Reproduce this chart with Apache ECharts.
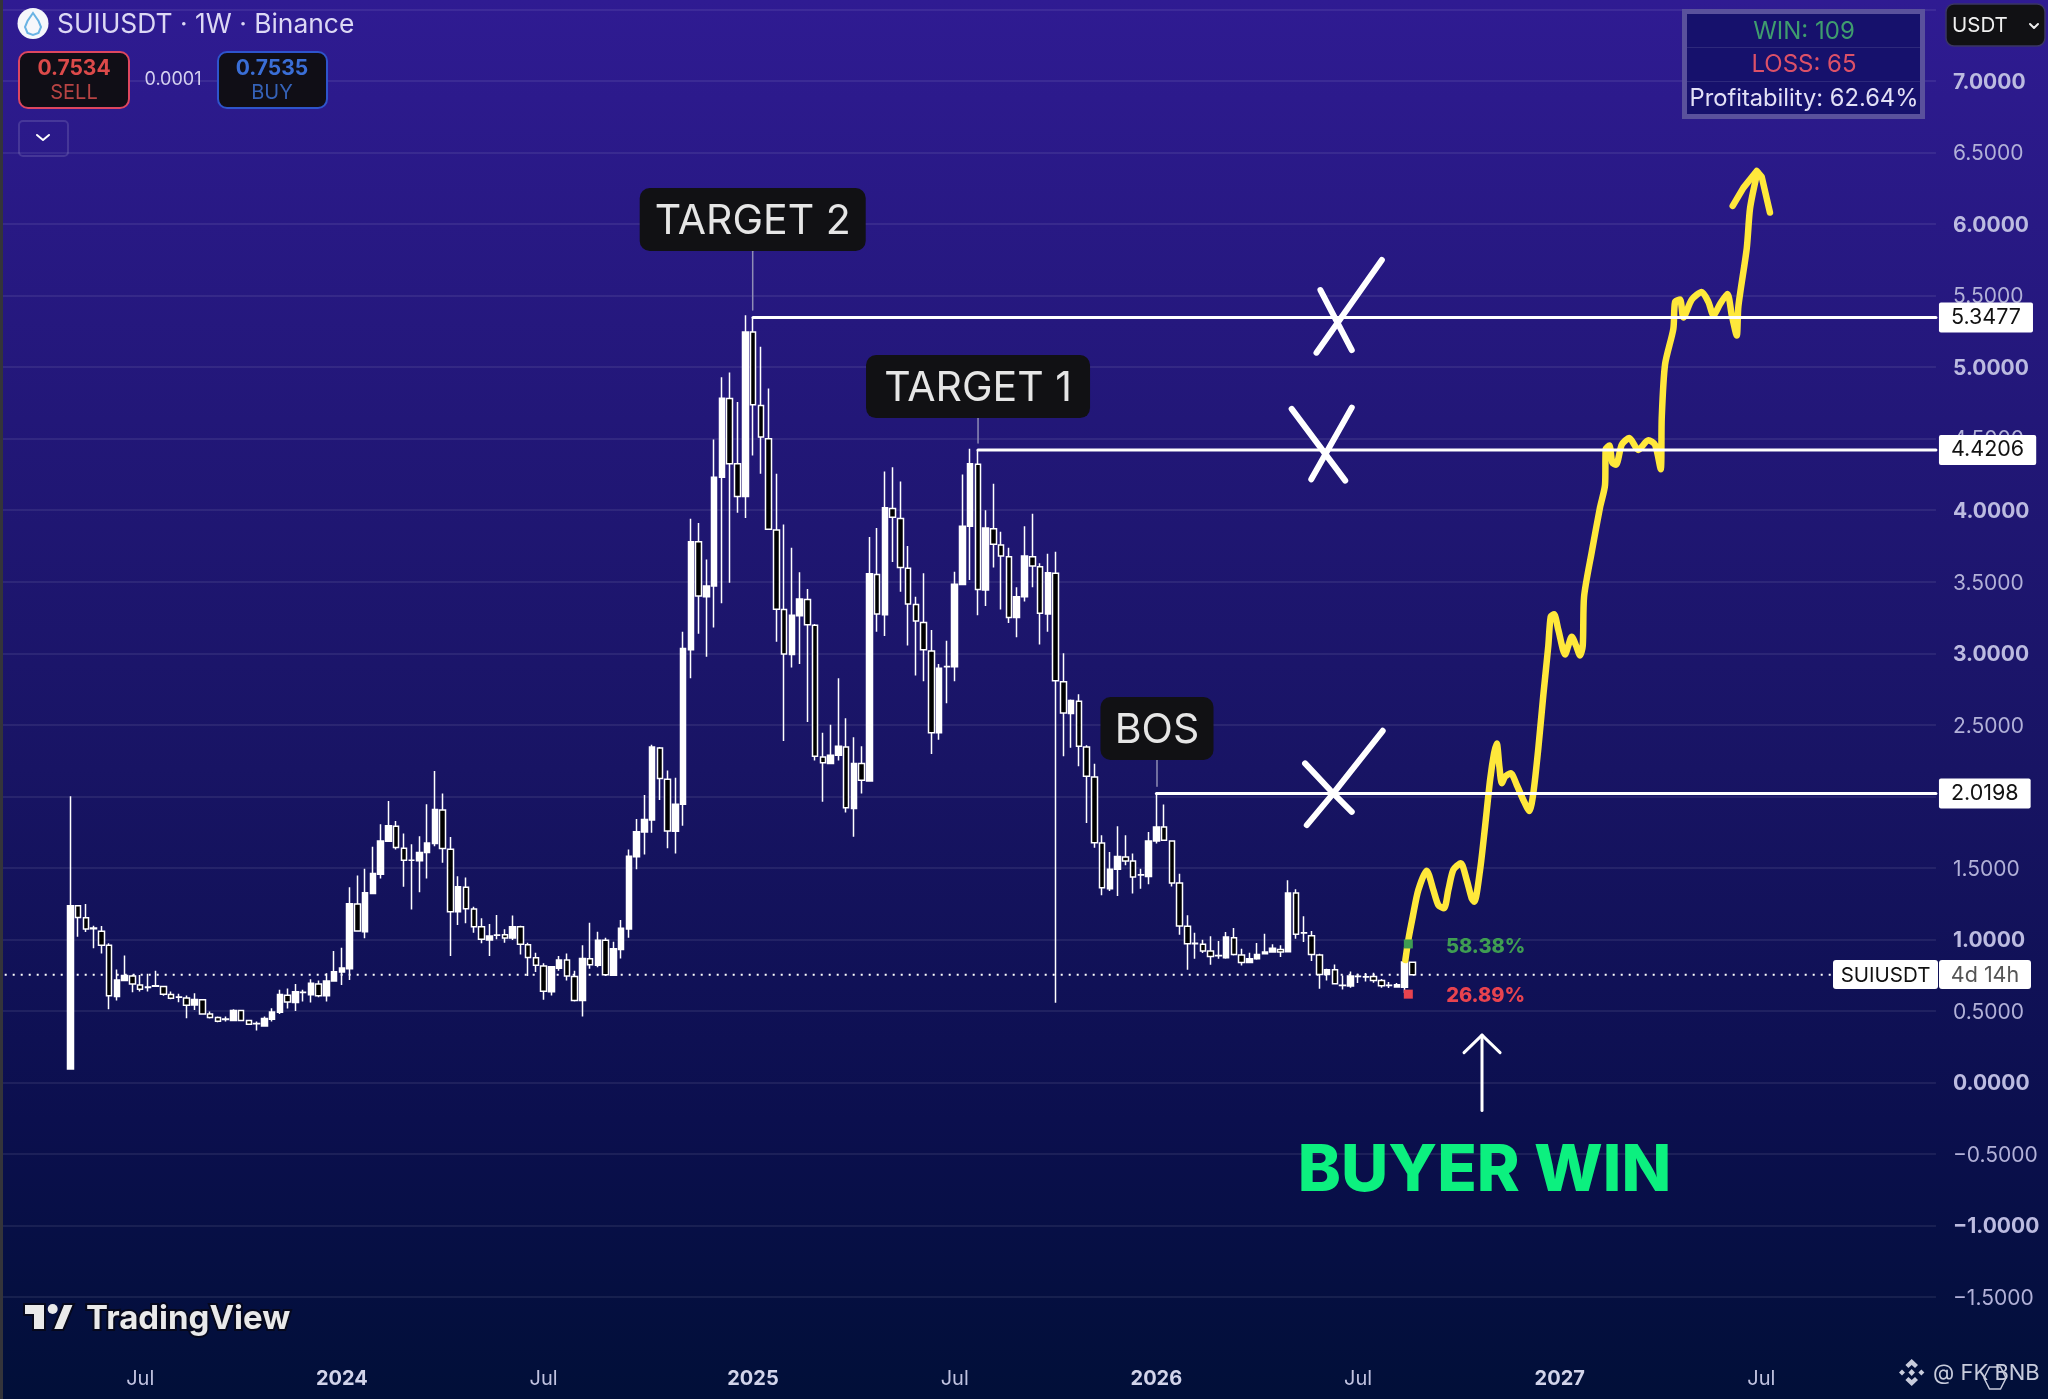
<!DOCTYPE html>
<html>
<head>
<meta charset="utf-8">
<style>html,body{margin:0;padding:0;background:#0a1050}#c{width:2048px;height:1399px}</style>
<script src="https://cdn.jsdelivr.net/npm/echarts@6/dist/echarts.min.js"></script>
</head>
<body>
<div id="c"></div>
<script>
// [open, close, low, high]
const candles2023 = [
[.093,1.235,.09,2.0],[1.235,1.153,1.019,1.235],[1.151,1.072,1.051,1.247],[1.08,1.075,.937,1.095],[1.056,.958,.902,1.093],
[.958,.605,.512,.972],[.60,.716,.572,.79],[.712,.747,.707,.888],[.744,.688,.63,.753],[.681,.651,.635,.751],
[.667,.663,.635,.76],[.676,.672,.67,.781],[.67,.616,.605,.674],[.614,.588,.581,.635],[.597,.595,.56,.619],
[.59,.54,.449,.607],[.542,.579,.507,.623],[.577,.479,.474,.577],[.479,.453,.447,.495],[.453,.428,.421,.46],
[.44,.443,.426,.46],[.433,.502,.428,.512],[.502,.433,.428,.507],[.433,.407,.402,.437],[.41,.411,.363,.426],
[.395,.447,.39,.46],[.442,.493,.426,.519],[.491,.614,.479,.647],[.609,.563,.516,.656],[.558,.633,.5,.688],
[.628,.631,.565,.647],[.612,.693,.558,.721],[.688,.605,.595,.712],[.605,.709,.565,.763]];
const candles2024a = [
[.709,.774,.709,.919],[.772,.8,.681,.942],[.795,1.249,.716,1.365],[1.247,1.058,1.053,1.447],[1.053,1.326,1.007,1.493],
[1.321,1.46,1.321,1.647],[1.456,1.688,1.426,1.805],[1.686,1.795,1.686,1.967],[1.791,1.642,1.628,1.828],[1.637,1.553,1.367,1.74],
[1.553,1.553,1.209,1.665],[1.549,1.607,1.33,1.721],[1.607,1.674,1.426,1.944],[1.67,1.907,1.651,2.177],[1.905,1.635,1.535,2.019],
[1.63,1.193,.884,1.716],[1.193,1.367,1.1,1.442],[1.365,1.214,1.112,1.433],[1.212,1.088,1.047,1.228],[1.088,1.0,.972,1.147],
[.995,1.023,.884,1.107],[1.028,1.03,1.0,1.17],[1.033,1.009,.977,1.07],[1.009,1.088,.995,1.167],[1.088,.965,.895,1.095],
[.963,.874,.744,.977],[.872,.819,.772,.907],[.814,.637,.577,.833],[.633,.809,.607,.814],[.798,.856,.781,.884],
[.856,.744,.712,.902],[.74,.572,.565,.781],[.572,.867,.46,.958],[.865,.823,.795,1.116],[.819,.993,.805,1.053],
[.993,.753,.744,1.012],[.749,.935,.744,.984],[.93,1.077,.867,1.135],[1.072,1.581,1.012,1.628],[1.577,1.753,1.49,1.842],
[1.751,1.837,1.593,2.009]];
const candles2024b = [
[1.835,2.345,1.746,2.36],[2.338,2.125,1.975,2.345],[2.12,1.757,1.637,2.18],[1.755,1.945,1.6,2.13],[1.945,3.033,1.795,3.15],
[3.025,3.78,2.825,3.94],[3.78,3.4,3.137,3.91],[3.395,3.47,2.975,3.655],[3.47,4.23,3.18,4.495],[4.23,4.782,3.35,4.93],
[4.78,4.325,3.492,4.962],[4.325,4.095,3.982,4.757],[4.095,5.245,3.945,5.362],[5.245,4.737,4.382,5.3477],[4.732,4.512,4.255,5.142],
[4.5,3.867,3.867,4.85],[3.862,3.307,3.08,4.255],[3.305,2.995,2.387,3.9],[2.992,3.265,2.9,3.737],[3.262,3.38,2.925,3.567],
[3.375,3.2,2.52,3.45],[3.195,2.28,2.25,3.205],[2.275,2.235,1.962,2.445],[2.23,2.287,2.23,2.5],[2.287,2.35,2.25,2.825]];
const candles2025 = [
[2.345,1.92,1.887,2.545],[1.915,2.23,1.717,2.412],[2.23,2.112,2.02,2.35],[2.107,3.555,2.107,3.812],[3.55,3.275,3.15,3.875],
[3.27,4.017,3.12,4.27],[4.012,3.95,3.637,4.3],[3.942,3.6,3.43,4.2],[3.595,3.345,3.055,3.75],[3.34,3.225,2.845,3.395],
[3.215,3.025,2.805,3.56],[3.015,2.445,2.295,3.162],[2.445,2.895,2.395,2.925],[2.905,2.908,2.65,3.087],[2.905,3.482,2.805,3.57],
[3.48,3.887,3.48,4.25],[3.887,4.325,3.512,4.43],[4.322,3.445,3.265,4.4206],[3.442,3.875,3.33,4.0],[3.87,3.762,3.6,4.185],
[3.757,3.68,3.305,3.85],[3.675,3.25,3.212,3.737],[3.25,3.395,3.112,3.462],[3.395,3.68,3.362,3.887],[3.675,3.61,3.462,3.975],
[3.605,3.28,3.062,3.63],[3.275,3.562,3.15,3.695],[3.56,2.807,.557,3.71],[2.80,2.583,2.28,3.0],[2.578,2.67,2.34,2.676],
[2.665,2.35,2.21,2.713],[2.345,2.14,1.814,2.357],[2.135,1.676,1.64,2.228],[1.674,1.361,1.308,1.727],[1.354,1.49,1.338,1.61],
[1.49,1.58,1.303,1.79],[1.576,1.548,1.518,1.727],[1.548,1.436,1.32,1.6],[1.45,1.452,1.354,1.494],[1.44,1.688,1.385,1.75]];
const candles2026 = [
[1.688,1.786,1.67,2.0198],[1.786,1.692,1.688,1.942],[1.688,1.394,1.37,1.692],[1.394,1.093,1.033,1.459],[1.091,.97,.788,1.168],
[.97,.972,.865,1.047],[.965,.918,.905,.998],[.918,.881,.823,1.021],[.886,.888,.865,.988],[.872,1.016,.865,1.051],
[1.012,.895,.888,1.079],[.891,.839,.818,.935],[.839,.865,.835,.907],[.865,.895,.858,.974],[.90,.912,.90,1.04],
[.911,.937,.911,.965],[.93,.911,.876,.958],[.914,1.324,.91,1.413],[1.324,1.035,1.005,1.35],[1.045,1.047,.981,1.161],
[1.026,.895,.849,1.058],[.891,.755,.655,.9],[.755,.788,.713,.795],[.788,.69,.685,.825],[.678,.68,.65,.748],
[.674,.744,.662,.776],[.74,.742,.695,.76],[.737,.739,.706,.765],[.741,.713,.697,.767],[.713,.676,.662,.723],
[.678,.68,.66,.702],[.667,.683,.665,.695],[.665,.842,.625,.842],[.84,.7534,.7534,.842]];

const leadWeeks = 9;
const totalWeeks = 250;
const xTickIndex = [18,44,70,97,123,149,175,201,227];
const xTickLabels = ['Jul','2024','Jul','2025','Jul','2026','Jul','2027','Jul'];

const levelPrices = [5.3477,4.4206,2.0198];
const levelWeeks = [97,126,149];
const lastPrice = 0.7534;
const targetNames = ['TARGET 2','TARGET 1','BOS'];
const targetWeeks = [96.96,126.01,149.08];
const targetPrices = [6.032,4.864,2.474];
const targetTextPrices = [6.014,4.846,2.456];
const stemTop = [5.81,4.645,2.25];
const stemBottom = [5.40,4.47,2.07];

const forecast = [[181.10,.856],[181.48,.996],[182.05,1.158],[182.77,1.345],[183.85,1.48],[184.71,1.345],[185.35,1.24],[186.08,1.217],[186.64,1.345],[187.28,1.485],
[188.24,1.532],[189.01,1.415],[189.65,1.287],[189.99,1.263],[190.73,1.485],[191.37,1.787],[192.02,2.114],[192.53,2.3],[192.88,2.37],[193.22,2.207],
[193.53,2.091],[193.95,2.137],[194.68,2.161],[195.46,2.079],[196.31,1.974],[197.08,1.897],[197.6,2.024],[198.24,2.336],[198.89,2.711],[199.53,3.054],
[199.84,3.257],[200.27,3.272],[200.82,3.163],[201.69,2.991],[202.11,3.054],[202.55,3.116],[203.1,3.054],[203.62,2.985],[203.97,3.054],[204.14,3.397],
[205.13,3.709],[206.2,4.021],[206.84,4.177],[206.93,4.427],[207.4,4.452],[207.78,4.333],[208.26,4.318],[209,4.458],[209.97,4.505],[211.13,4.421],
[212.42,4.489],[213.29,4.458],[214.02,4.286],[214.15,4.645],[214.58,5.02],[215.65,5.269],[215.87,5.456],[216.51,5.472],[216.94,5.347],[218.02,5.472],
[219.31,5.525],[220.16,5.456],[220.81,5.363],[221.67,5.441],[222.61,5.512],[223.18,5.363],[223.82,5.222],[224.03,5.425],[225.11,5.831],[225.54,6.112],[226.48,6.362]];
const forecastHead = [[223.3,6.127],[224.67,6.253],[226.4,6.371],[227.04,6.33],[228.1,6.081]];

const crossStrokes = [
 [[169.64,5.101],[178.07,5.749]], [[170.15,5.539],[174.19,5.119]],
 [[168.97,4.216],[174.19,4.717]], [[166.44,4.708],[173.35,4.207]],
 [[168.39,1.799],[171.81,2.021],[178.18,2.458]], [[168.17,2.23],[171.39,2.044],[174.19,1.892]]];
const buyArrowShaft = [[190.98,-.197],[190.98,.331]];
const buyArrowHead = [[188.66,.208],[190.98,.331],[193.31,.208]];

const takeProfit = [181.48,.968];
const stopLoss = [181.48,.617];
const notes = [
 {t:'58.38%', at:[191.45,.950], c:'#3f9d52', s:20},
 {t:'26.89%', at:[191.45,.604], c:'#e8434f', s:20},
 {t:'BUYER WIN', at:[191.3,-.625], c:'#0cf07f', s:65}];

const categories = Array.from({length:totalWeeks},(_,i)=>{const k=xTickIndex.indexOf(i);return k>=0?xTickLabels[k]:'';});
const allCandles = [...candles2023,...candles2024a,...candles2024b,...candles2025,...candles2026];
const candleData = [...Array(leadWeeks).fill(['-','-','-','-']),...allCandles];
const F = 'Inter, "Noto Sans", sans-serif';
const rightWeek = totalWeeks-0.5;

const thinLine = (data,color,width,z,extra)=>Object.assign({type:'line',xAxisIndex:1,yAxisIndex:0,data,symbol:'none',silent:true,
  lineStyle:{color,width,cap:'round',join:'round'},z,animation:false},extra||{});

const series = [
 {type:'candlestick',xAxisIndex:0,yAxisIndex:0,data:candleData,barWidth:6,z:3,
  itemStyle:{color:'#fff',color0:'#000',borderColor:'#fff',borderColor0:'#fff',borderColorDoji:'#fff',borderWidth:1.5}},
 thinLine([[-.5,lastPrice],[rightWeek,lastPrice]],'#fff',2,2,{lineStyle:{color:'#fff',width:2,type:[2,6]}}),
 thinLine(forecast,'#ffe83b',6.5,4,{smooth:.25}),
 thinLine(forecastHead,'#ffe83b',6.5,4)
];
levelPrices.forEach((p,i)=>{
 series.push(thinLine([[levelWeeks[i],p],[rightWeek,p]],'#fff',3,5,{
  endLabel:{show:true,distance:3,formatter:()=>p.toFixed(4),backgroundColor:'#fff',color:'#111',fontFamily:F,fontSize:21.5,padding:[5,12,3,12],borderRadius:2}}));
 series.push(thinLine([[targetWeeks[i],stemTop[i]],[targetWeeks[i],stemBottom[i]]],'#8f8db5',1.5,5));
});
crossStrokes.forEach(s=>series.push(thinLine(s,'#fff',6,6)));
series.push(thinLine(buyArrowShaft,'#fff',3,6));
series.push(thinLine(buyArrowHead,'#fff',3,6));
series.push({type:'scatter',xAxisIndex:1,yAxisIndex:0,data:[takeProfit],symbol:'rect',symbolSize:9,itemStyle:{color:'#3f9d52',opacity:1},z:7});
series.push({type:'scatter',xAxisIndex:1,yAxisIndex:0,data:[stopLoss],symbol:'rect',symbolSize:9,itemStyle:{color:'#e8434f',opacity:1},z:7});
const boxW=[226,224,113];
targetNames.forEach((n,i)=>{
 series.push({type:'scatter',xAxisIndex:1,yAxisIndex:0,data:[[targetWeeks[i],targetPrices[i]]],symbolSize:1,
  itemStyle:{color:'transparent',opacity:1},z:8,
  label:{show:true,position:'inside',formatter:()=>' ',backgroundColor:'#111114',fontSize:12,
    width:boxW[i],height:63,align:'center',verticalAlign:'middle',borderRadius:10}});
 series.push({type:'scatter',xAxisIndex:1,yAxisIndex:0,data:[[targetWeeks[i],targetTextPrices[i]]],symbolSize:1,
  itemStyle:{color:'transparent',opacity:1},z:9,
  label:{show:true,position:'inside',formatter:()=>n,color:'#e6e6e6',fontFamily:F,fontSize:41,fontWeight:400}});
});
notes.forEach(o=>series.push({type:'scatter',xAxisIndex:1,yAxisIndex:0,data:[o.at],symbolSize:1,itemStyle:{color:'transparent',opacity:1},z:8,
  label:{show:true,position:'inside',formatter:()=>o.t,color:o.c,fontFamily:F,fontSize:o.s,fontWeight:800}}));

// overlay helpers
const R=(x,y,w,h,fill,stroke,lw,r)=>({type:'rect',z:100,shape:{x,y,width:w,height:h,r:r||0},style:{fill:fill||'none',stroke:stroke||'none',lineWidth:lw||0}});
const T=(x,y,text,fill,size,weight,align,extra)=>({type:'text',z:101,x,y:y+1,style:Object.assign({text,fill,font:(weight||400)+' '+size+'px '+F,textAlign:align||'left',textVerticalAlign:'middle'},extra||{})});
const PL=(pts,stroke,lw)=>({type:'polyline',z:101,shape:{points:pts},style:{stroke,lineWidth:lw,fill:'none',lineCap:'round',lineJoin:'round'}});
const PG=(pts,fill,stroke,lw,smooth)=>({type:'polygon',z:101,shape:{points:pts,smooth:smooth||0},style:{fill:fill||'none',stroke:stroke||'none',lineWidth:lw||0}});

const overlay = [
 R(0,0,3,1399,'#34343a'),
 {type:'circle',z:100,shape:{cx:33,cy:23.5,r:15.5},style:{fill:'#f6f7fb'}},
 PG([[33,13],[38.5,21],[41,27],[38.5,33],[33,35],[27.5,33],[25,27],[27.5,21]],null,'#69b3e4',2),
 T(57,24,'SUIUSDT · 1W · Binance','#dcd8f4',26.4),
 R(19,52,110,56,'#100e16','#dd4660',2,9),
 T(74,68,'0.7534','#dc4a4a',21,700,'center'),
 T(74,92,'SELL','#b84444',20,400,'center'),
 T(173,79,'0.0001','#d5d1f0',18,400,'center'),
 R(218,52,109,56,'#100e16','#2e54cc',2,9),
 T(272,68,'0.7535','#3a6ed6',21,700,'center'),
 T(272,92,'BUY','#3562b8',20,400,'center'),
 R(19,121,49,35,'rgba(0,0,0,0)','rgba(255,255,255,.13)',2,4),
 PL([[37,135],[43,140],[49,135]],'#ffffff',2),
 R(1684.5,11.5,238,105,'#16116c','#5a519c',5),
 R(1687,47,233,1,'rgba(255,255,255,.1)'),
 R(1687,81,233,1,'rgba(255,255,255,.1)'),
 T(1804,31,'WIN: 109','#3f9d6e',24,400,'center'),
 T(1804,64,'LOSS: 65','#dc5168',24,400,'center'),
 T(1804,98,'Profitability: 62.64%','#e2e0f6',23.7,400,'center'),
 R(1946,4,99,42,'#111114','#3a3662',1.5,8),
 T(1952,25,'USDT','#f0f0f0',20.5),
 PL([[2030,24],[2034,28],[2038,24]],'#eee',2),
 R(1833,960,105,29,'#fff',null,0,3),
 T(1885.5,975,'SUIUSDT','#111',20.5,400,'center'),
 R(1939,960,92,29,'#fff',null,0,3),
 T(1985,975,'4d 14h','#555',21.5,400,'center'),
 PG([[24,1304],[45,1304],[45,1330],[33,1330],[33,1315],[24,1315]],'#e9e9ea','#06081c',2),
 {type:'circle',z:101,shape:{cx:52.7,cy:1309,r:5},style:{fill:'#e9e9ea'}},
 PG([[63.3,1304],[74,1304],[63.3,1330],[52.7,1330]],'#e9e9ea','#06081c',2),
 T(86,1318,'TradingView','#e9e9ea',33,700,'left',{stroke:'#06081c',lineWidth:4}),
 PG([[1911.7,1359],[1918,1365],[1915,1368],[1911.7,1365],[1908.4,1368],[1905.4,1365]],'#c8ccdc'),
 PG([[1911.7,1386],[1918,1380],[1915,1377],[1911.7,1380],[1908.4,1377],[1905.4,1380]],'#c8ccdc'),
 PG([[1911.7,1369],[1915,1372.5],[1911.7,1376],[1908.4,1372.5]],'#c8ccdc'),
 PG([[1902,1369.5],[1905,1372.5],[1902,1375.5],[1899,1372.5]],'#c8ccdc'),
 PG([[1921.4,1369.5],[1924.4,1372.5],[1921.4,1375.5],[1918.4,1372.5]],'#c8ccdc'),
 T(1933,1372,'@ FK BNB','#c8ccdc',22),
 PG([[1984,1378],[1989.5,1367],[2000.5,1367],[2006,1378],[2000.5,1389],[1989.5,1389]],null,'#c8ccdc',1.5)
];

const chart = echarts.init(document.getElementById('c'),null,{width:2048,height:1399,renderer:'canvas'});
chart.setOption({
 animation:false,
 backgroundColor:new echarts.graphic.LinearGradient(0,0,0,1,[
  {offset:0,color:'#2f1b92'},{offset:.3,color:'#221778'},{offset:.55,color:'#181464'},{offset:.8,color:'#0b0f4e'},{offset:1,color:'#010f38'}]),
 grid:{left:-3.3,top:9.5,width:1939.25,height:1287.5,containLabel:false,outerBoundsMode:'none'},
 xAxis:[
  {type:'category',data:categories,boundaryGap:true,axisLine:{show:false},axisTick:{show:false},splitLine:{show:false},
   axisLabel:{margin:72,interval:(i,v)=>v!=='',hideOverlap:false,fontFamily:F,
    formatter:v=>/\d/.test(v)?'{y|'+v+'}':'{m|'+v+'}',
    rich:{y:{fontFamily:F,fontSize:20,fontWeight:700,color:'#d2d4ea'},m:{fontFamily:F,fontSize:20,fontWeight:400,color:'#c0c2e0'}}}},
  {type:'value',min:-.5,max:rightWeek,show:false,splitLine:{show:false}}
 ],
 yAxis:{type:'value',position:'right',min:-1.5,max:7.5,interval:.5,scale:false,
  axisLine:{show:false},axisTick:{show:false},
  splitLine:{show:true,lineStyle:{color:'rgba(255,255,255,.075)',width:2}},
  axisLabel:{margin:17,fontFamily:F,
   formatter:v=>{if(v>7.4)return '';const s=v.toFixed(4).replace('-','\u2212');return Number.isInteger(v)?'{b|'+s+'}':'{r|'+s+'}';},
   rich:{b:{fontFamily:F,fontSize:21,fontWeight:700,color:'#bcbbe0',padding:[3,0,0,0]},r:{fontFamily:F,fontSize:21,fontWeight:400,color:'#b2b1d8',padding:[3,0,0,0]}}}},
 graphic:{elements:overlay},
 series
});
</script>
</body>
</html>
